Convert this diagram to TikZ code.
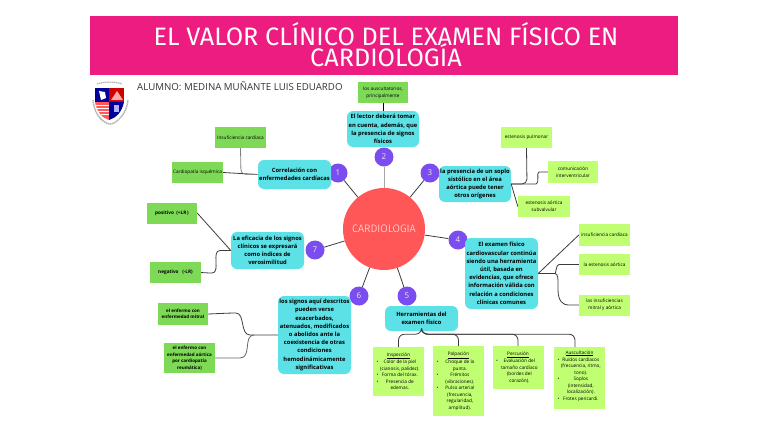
\documentclass[tikz,border=0pt]{standalone}
\usepackage{fontspec}
\usepackage{array}
\setmainfont{Open Sans}
\newfontfamily\titlefont{Fira Sans}
\newfontfamily\corefont{Fira Sans Light}
\newcommand{\titlesetup}{\titlefont\fontsize{25.2}{21}\selectfont\lineskiplimit=-20pt\relax}
\usetikzlibrary{calc}
\definecolor{pinkhead}{HTML}{EC1C80}
\definecolor{corered}{HTML}{FF5757}
\definecolor{numpurple}{HTML}{7C4DEE}
\definecolor{cyanbox}{HTML}{5CE1E6}
\definecolor{darkgreen}{HTML}{7ED957}
\definecolor{lightgreen}{HTML}{C1FF72}
\definecolor{linkgray}{HTML}{3C3C3C}
\tikzset{
  numdot/.style={circle,fill=numpurple,text=white!85!numpurple,minimum size=19pt,inner sep=0pt,font=\fontsize{8}{8}\selectfont},
  mainbox/.style={fill=cyanbox,rounded corners=6pt,inner sep=0pt,align=center,font=\fontsize{5.8}{8.2}\selectfont\bfseries},
  leafdark/.style={fill=darkgreen,inner sep=0pt,align=center,font=\fontsize{4.7}{6.6}\selectfont},
  leaflight/.style={fill=lightgreen,inner sep=0pt,align=center,font=\fontsize{4.7}{6.6}\selectfont},
  toolbox/.style={fill=lightgreen,inner sep=0pt,anchor=north,minimum width=51pt,font=\fontsize{4.7}{6.5}\selectfont},
  spoke/.style={draw=linkgray,line width=0.8pt},
  link/.style={draw=linkgray,line width=0.8pt,rounded corners=4pt},
}
\newcolumntype{Y}{>{\centering\arraybackslash}p{41pt}}
\newcommand{\toolhead}[1]{\multicolumn{2}{@{}c@{}}{\underline{#1}}\\[0.5pt]}
\newcommand{\tooldot}{\textbullet}
\begin{document}
\begin{tikzpicture}[x=1pt,y=-1pt]
    \useasboundingbox (0,0) rectangle (768,431);

    % header
    \node[fill=pinkhead,minimum width=588pt,minimum height=59pt,inner sep=0pt] (header) at (384,45.5) {};
    \node[text=white,align=center,font=\titlesetup] (title) at (386,44.5)
        {EL VALOR CLÍNICO DEL EXAMEN FÍSICO EN\\CARDIOLOGÍA};
    \node[anchor=west,inner sep=0pt,text=black!80,font=\fontsize{9.7}{10}\selectfont] (student) at (137,86.5)
        {ALUMNO: MEDINA MUÑANTE LUIS EDUARDO};

    % logo
    \draw[gray!60,line width=1.2pt,dash pattern=on 1.5pt off 0.6pt] (97,84) .. controls (104,81.5) and (116,81.5) .. (122,84);
    \draw[gray!60,line width=1.5pt,dash pattern=on 1.5pt off 0.6pt] (93,100) .. controls (94,116) and (105,124) .. (110,124) .. controls (116,124) and (127,114) .. (128,100);
    \fill[blue!60!black] (95,88) rectangle (109,102);
    \fill[red!80!black] (109,88) rectangle (124,102);
    \fill[white] (99,91) -- (105,92) -- (106,98) -- (101,100) -- cycle;
    \fill[white!65!red] (111,100) -- (117,91) -- (123,100) -- cycle;
    \fill[red!65!white] (95,102) -- (109,102) -- (109,120) .. controls (102,118) and (97,112) .. (95,102);
    \draw[white,line width=0.6pt] (96,105) -- (109,105) (97,108) -- (109,108) (98,111) -- (109,111) (101,114) -- (109,114);
    \fill[blue!60!black] (109,102) -- (124,102) .. controls (122,112) and (116,118) .. (109,120) -- cycle;
    \fill[white!70!blue] (114,105) rectangle (119,112);

    % main nodes
    \node[circle,fill=corered,minimum size=82pt,inner sep=0pt,text=white!90!corered,font=\corefont\fontsize{10.8}{10}\selectfont] (core) at (384,229) {CARDIOLOGIA};

    \node[numdot] (n1) at (338,173) {1};
    \node[numdot] (n2) at (384,157) {2};
    \node[numdot] (n3) at (430,173) {3};
    \node[numdot] (n4) at (458,240) {4};
    \node[numdot] (n5) at (407,296) {5};
    \node[numdot] (n6) at (359,296) {6};
    \node[numdot] (n7) at (315,250) {7};

    \node[mainbox,minimum width=73pt,minimum height=29pt] (corr) at (294.5,174.5) {Correlación con\\enfermedades cardíacas};
    \node[mainbox,minimum width=72pt,minimum height=36pt] (reader) at (383,129) {El lector deberá tomar\\en cuenta, además, que\\la presencia de signos\\físicos};
    \node[mainbox,minimum width=72pt,minimum height=36pt] (murmur) at (475,184) {la presencia de un soplo\\sistólico en el área\\aórtica puede tener\\otros orígenes};
    \node[mainbox,minimum width=73pt,minimum height=71pt] (exam) at (501.5,273.5) {El examen físico\\cardiovascular continúa\\siendo una herramienta\\útil, basada en\\evidencias, que ofrece\\información válida con\\relación a condiciones\\clínicas comunes};
    \node[mainbox,minimum width=73pt,minimum height=25pt] (tools) at (421.5,318.5) {Herramientas del\\examen físico};
    \node[mainbox,minimum width=73pt,minimum height=78pt] (signs) at (314.5,335) {los signos aquí descritos\\pueden verse\\exacerbados,\\atenuados, modificados\\o abolidos ante la\\coexistencia de otras\\condiciones\\hemodinámicamente\\significativas};
    \node[mainbox,minimum width=73pt,minimum height=37pt] (ratio) at (267.5,250.5) {La eficacia de los signos\\clínicos se expresará\\como índices de\\verosimilitud};

    % leaves
    \node[leafdark,minimum width=51pt,minimum height=21pt] (heart) at (240.5,137.5) {Insuficiencia cardíaca};
    \node[leafdark,minimum width=51pt,minimum height=21pt] (ischem) at (197.5,172.5) {Cardiopatía isquémica};
    \node[leafdark,minimum width=50pt,minimum height=21pt] (auscult) at (383,92.5) {los auscultatorios,\\principalmente};
    \node[leaflight,minimum width=51pt,minimum height=21pt] (pulm) at (526.5,137.5) {estenosis pulmonar};
    \node[leaflight,minimum width=50pt,minimum height=22pt] (ventr) at (573,172) {comunicación\\interventricular};
    \node[leaflight,minimum width=52pt,minimum height=21pt] (subv) at (544,206.5) {estenosis aórtica\\subvalvular};
    \node[leaflight,minimum width=51pt,minimum height=22pt] (insuf) at (604.5,235) {insuficiencia cardíaca};
    \node[leaflight,minimum width=51pt,minimum height=21pt] (stenos) at (604.5,264.5) {la estenosis aórtica};
    \node[leaflight,minimum width=51pt,minimum height=21pt] (mitral) at (604.5,305) {las insuficiencias\\mitral y aórtica};
    \node[leafdark,minimum width=50pt,minimum height=21pt] (posit) at (172,213) {\textbf{positivo\ \ (+LR\,)}};
    \node[leafdark,minimum width=51pt,minimum height=21pt] (negat) at (175.5,272.5) {\textbf{negativo\ \ \ (-LR)}};
    \node[leafdark,minimum width=50pt,minimum height=22pt,font=\fontsize{4.5}{6}\selectfont\bfseries] (sick1) at (183,314) {el enfermo con\\enfermedad mitral};
    \node[leafdark,minimum width=51pt,minimum height=30pt,font=\fontsize{4.5}{6.5}\selectfont\bfseries] (sick2) at (189.5,358) {el enfermo con\\enfermedad  aórtica\\por cardiopatía\\reumática)};

    % tool boxes
    \node[toolbox,minimum height=49pt] (insp) at (398.5,347) {\begin{tabular}[t]{@{}c@{\hspace{1pt}}Y@{}}\toolhead{Inspección}
        \tooldot & Color de la piel (cianosis, palidez).\\ \tooldot & Forma del tórax.\\ \tooldot & Presencia de edemas.\\[5pt]\end{tabular}};
    \node[toolbox,minimum height=70pt] (palp) at (458.5,346) {\begin{tabular}[t]{@{}c@{\hspace{1pt}}Y@{}}\toolhead{Palpación}
        \tooldot & Choque de la punta.\\ \tooldot & Frémitos (vibraciones).\\ \tooldot & Pulso arterial (frecuencia, regularidad, amplitud).\\[5pt]\end{tabular}};
    \node[toolbox,minimum height=43pt] (perc) at (518,346) {\begin{tabular}[t]{@{}c@{\hspace{1pt}}Y@{}}\toolhead{Percusión}
        \tooldot & Evaluación del tamaño cardíaco (bordes del corazón).\\[5pt]\end{tabular}};
    \node[toolbox,minimum height=62pt] (ausc) at (579.5,347) {\begin{tabular}[t]{@{}c@{\hspace{1pt}}Y@{}}\toolhead{Auscultación}
        \tooldot & Ruidos cardíacos (frecuencia, ritmo, tono).\\ \tooldot & Soplos (intensidad, localización).\\ \tooldot & Frotes pericardi.\\[5pt]\end{tabular}};

    % spokes
    \draw[spoke] (core) -- (n1);
    \draw[spoke,draw=gray!70] (core) -- (n2);
    \draw[spoke] (core) -- (n3);
    \draw[spoke] (core) -- (n4);
    \draw[spoke] (core) -- (n5);
    \draw[spoke] (core) -- (n6);
    \draw[spoke] (core) -- (n7);

    % branches
    \draw[link] (corr.west) -- (ischem.east);
    \draw[link,draw=gray] (heart.south) -- (241,174) -- (corr.west);
    \draw[spoke,draw=black] (auscult.south) -- (reader.north);
    \draw[link,rounded corners=5pt] (murmur.east) -- (527,184) -- (pulm.south);
    \draw[link] (murmur.east) -- (532,184) .. controls (540,184) and (536,172) .. (543,172) -- (ventr.west);
    \draw[spoke] (murmur.east) -- (subv.west);
    \draw[spoke] (exam.east) -- (insuf.west);
    \coordinate (examhub) at (551,273.5);
    \draw[link] (exam.east) -- (examhub) .. controls (556,273.5) and (556,264.5) .. (563,264.5) -- (stenos.west);
    \draw[link] (exam.east) -- (examhub) .. controls (558,273.5) and (558,280) .. (558,286) .. controls (558,302) and (564,305) .. (572,305) -- (mitral.west);
    \draw[spoke] (ratio.west) -- (posit.east);
    \draw[link] (negat.east) -- (208,273) .. controls (221,273) and (211,250.5) .. (224,250.5) -- (ratio.west);
    \coordinate (signshub) at (254,335);
    \draw[link] (sick1.east) -- (232,313) .. controls (245,313) and (240,335) .. (signshub) -- (signs.west);
    \draw[link,draw=linkgray!80] (sick2.east) -- (236,358) .. controls (252,358) and (243,335) .. (signshub);
    \coordinate (toolfoot) at ($(tools.south)+(0,3)$);
    \coordinate (ausctop) at (575,347);
    \draw[link,rounded corners=6pt] (tools.south) -- (toolfoot) -- (insp.north |- toolfoot) -- (insp.north);
    \draw[link,rounded corners=6pt] (tools.south) -- (toolfoot) -- (palp.north |- toolfoot) -- (palp.north);
    \draw[link,rounded corners=6pt] (tools.south) -- (toolfoot) -- (perc.north |- toolfoot) -- (perc.north);
    \draw[link,rounded corners=6pt] (tools.south) -- (toolfoot) -- (ausctop |- toolfoot) -- (ausctop);
\end{tikzpicture}
\end{document}
